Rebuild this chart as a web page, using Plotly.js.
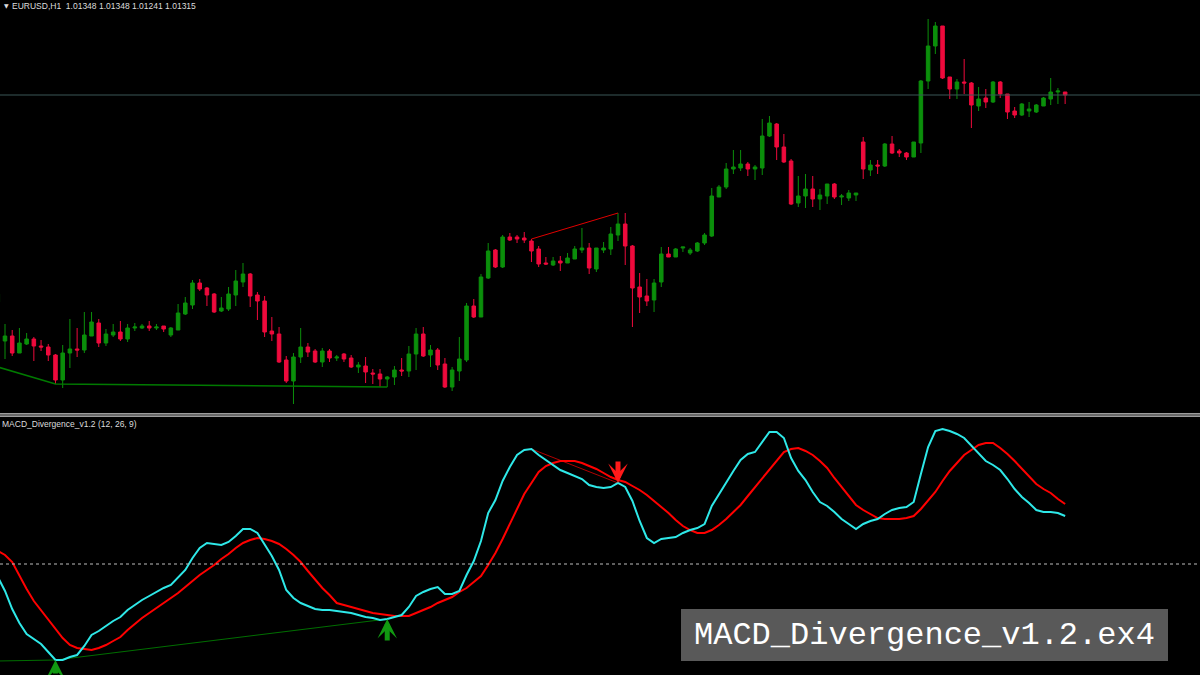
<!DOCTYPE html>
<html><head><meta charset="utf-8">
<script src="https://cdn.plot.ly/plotly-3.0.1.min.js"></script>
<style>html,body{margin:0;padding:0;background:#000;overflow:hidden}#chart{width:1200px;height:675px}</style>
</head><body><div id="chart"></div>
<script>
const symbolName = 'EURUSD,H1';
const headerValues = ['1.01348', '1.01348', '1.01241', '1.01315'];
const indicatorName = 'MACD_Divergence_v1.2 (12, 26, 9)';
const fileLabel = 'MACD_Divergence_v1.2.ex4';

const openP = [
1.01108,1.01069,1.01074,1.01057,1.01066,1.01071,1.01064,1.01063,1.01055,1.01030,
1.01057,1.01061,1.01060,1.01074,1.01087,1.01067,1.01075,1.01078,1.01071,1.01082,
1.01082,1.01084,1.01082,1.01084,1.01075,1.01080,1.01096,1.01105,1.01127,1.01122,
1.01116,1.01099,1.01101,1.01115,1.01128,1.01136,1.01115,1.01109,1.01079,1.01076,
1.01050,1.01029,1.01053,1.01063,1.01059,1.01048,1.01059,1.01052,1.01056,1.01052,
1.01043,1.01044,1.01037,1.01036,1.01031,1.01033,1.01040,1.01039,1.01056,1.01076,
1.01055,1.01060,1.01046,1.01023,1.01039,1.01050,1.01104,1.01093,1.01132,1.01160,
1.01143,1.01173,1.01173,1.01172,1.01169,1.01161,1.01147,1.01145,1.01149,1.01147,
1.01151,1.01160,1.01162,1.01141,1.01160,1.01161,1.01175,1.01186,1.01164,1.01123,
1.01114,1.01110,1.01128,1.01156,1.01153,1.01162,1.01157,1.01159,1.01167,1.01174,
1.01213,1.01223,1.01241,1.01242,1.01246,1.01241,1.01242,1.01274,1.01286,1.01263,
1.01249,1.01207,1.01214,1.01221,1.01211,1.01214,1.01226,1.01213,1.01212,1.01215,
1.01268,1.01240,1.01245,1.01244,1.01266,1.01259,1.01257,1.01253,1.01267,1.01329,
1.01364,1.01384,1.01333,1.01321,1.01328,1.01327,1.01304,1.01312,1.01308,1.01328,
1.01316,1.01299,1.01295,1.01299,1.01298,1.01304,1.01311,1.01318,1.01318];

const highP = [
1.01120,1.01086,1.01080,1.01082,1.01077,1.01073,1.01070,1.01066,1.01056,1.01065,
1.01091,1.01082,1.01098,1.01098,1.01091,1.01081,1.01086,1.01089,1.01086,1.01087,
1.01086,1.01089,1.01086,1.01084,1.01083,1.01106,1.01113,1.01130,1.01131,1.01123,
1.01117,1.01113,1.01123,1.01140,1.01147,1.01137,1.01118,1.01114,1.01093,1.01083,
1.01054,1.01057,1.01082,1.01067,1.01061,1.01062,1.01061,1.01055,1.01057,1.01055,
1.01048,1.01053,1.01041,1.01041,1.01034,1.01044,1.01052,1.01064,1.01082,1.01083,
1.01065,1.01062,1.01052,1.01043,1.01073,1.01107,1.01111,1.01136,1.01167,1.01161,
1.01175,1.01177,1.01175,1.01178,1.01171,1.01164,1.01153,1.01153,1.01154,1.01157,
1.01164,1.01182,1.01167,1.01162,1.01168,1.01183,1.01197,1.01197,1.01165,1.01137,
1.01131,1.01131,1.01163,1.01163,1.01162,1.01163,1.01162,1.01168,1.01177,1.01222,
1.01225,1.01247,1.01260,1.01260,1.01248,1.01245,1.01291,1.01294,1.01287,1.01276,
1.01251,1.01234,1.01236,1.01234,1.01221,1.01226,1.01227,1.01216,1.01220,1.01217,
1.01273,1.01250,1.01250,1.01267,1.01274,1.01261,1.01258,1.01268,1.01330,1.01391,
1.01388,1.01384,1.01333,1.01331,1.01351,1.01328,1.01323,1.01321,1.01329,1.01329,
1.01316,1.01303,1.01307,1.01308,1.01306,1.01313,1.01332,1.01322,1.01318];

const lowP = [
1.01104,1.01051,1.01054,1.01057,1.01065,1.01049,1.01059,1.01049,1.01026,1.01022,
1.01042,1.01053,1.01057,1.01074,1.01063,1.01064,1.01073,1.01069,1.01068,1.01079,
1.01081,1.01079,1.01080,1.01078,1.01073,1.01080,1.01095,1.01101,1.01119,1.01104,
1.01097,1.01098,1.01099,1.01104,1.01123,1.01103,1.01090,1.01073,1.01069,1.01047,
1.01027,1.01006,1.01047,1.01053,1.01047,1.01043,1.01048,1.01049,1.01048,1.01042,
1.01037,1.01027,1.01026,1.01023,1.01023,1.01025,1.01034,1.01033,1.01040,1.01053,
1.01043,1.01040,1.01022,1.01019,1.01029,1.01048,1.01092,1.01093,1.01131,1.01142,
1.01142,1.01169,1.01167,1.01167,1.01148,1.01143,1.01145,1.01144,1.01139,1.01147,
1.01151,1.01157,1.01136,1.01138,1.01157,1.01155,1.01169,1.01145,1.01083,1.01097,
1.01104,1.01098,1.01123,1.01153,1.01153,1.01158,1.01155,1.01158,1.01165,1.01173,
1.01213,1.01221,1.01236,1.01239,1.01234,1.01230,1.01235,1.01273,1.01250,1.01247,
1.01205,1.01203,1.01202,1.01203,1.01200,1.01206,1.01211,1.01205,1.01209,1.01209,
1.01231,1.01234,1.01236,1.01243,1.01256,1.01253,1.01250,1.01253,1.01257,1.01321,
1.01356,1.01331,1.01311,1.01311,1.01316,1.01282,1.01299,1.01302,1.01307,1.01312,
1.01291,1.01292,1.01294,1.01293,1.01297,1.01304,1.01305,1.01306,1.01306];

const closeP = [
1.01116,1.01074,1.01057,1.01067,1.01071,1.01064,1.01063,1.01055,1.01030,1.01057,
1.01061,1.01060,1.01075,1.01088,1.01067,1.01076,1.01078,1.01071,1.01082,1.01083,
1.01084,1.01082,1.01083,1.01081,1.01082,1.01097,1.01107,1.01127,1.01121,1.01115,
1.01098,1.01102,1.01116,1.01129,1.01136,1.01114,1.01109,1.01078,1.01076,1.01048,
1.01029,1.01053,1.01063,1.01058,1.01048,1.01059,1.01052,1.01053,1.01051,1.01043,
1.01045,1.01038,1.01036,1.01031,1.01033,1.01040,1.01039,1.01056,1.01076,1.01054,
1.01060,1.01045,1.01023,1.01040,1.01051,1.01104,1.01093,1.01133,1.01159,1.01143,
1.01173,1.01170,1.01171,1.01170,1.01159,1.01146,1.01146,1.01149,1.01147,1.01152,
1.01161,1.01162,1.01142,1.01162,1.01162,1.01176,1.01186,1.01164,1.01122,1.01113,
1.01109,1.01127,1.01156,1.01153,1.01161,1.01163,1.01160,1.01167,1.01175,1.01214,
1.01223,1.01241,1.01243,1.01246,1.01241,1.01243,1.01274,1.01287,1.01263,1.01248,
1.01206,1.01214,1.01221,1.01211,1.01215,1.01226,1.01213,1.01214,1.01217,1.01217,
1.01241,1.01245,1.01244,1.01266,1.01257,1.01257,1.01253,1.01268,1.01329,1.01364,
1.01384,1.01332,1.01321,1.01328,1.01327,1.01305,1.01311,1.01308,1.01328,1.01316,
1.01298,1.01295,1.01306,1.01301,1.01305,1.01312,1.01318,1.01319,1.01315];

const macdMain = [
-0.00013,-0.00027,-0.00045,-0.00059,-0.00070,-0.00075,-0.00080,-0.00088,-0.00096,-0.00096,
-0.00093,-0.00091,-0.00082,-0.00071,-0.00067,-0.00062,-0.00057,-0.00053,-0.00046,-0.00041,
-0.00036,-0.00032,-0.00028,-0.00024,-0.00021,-0.00013,-0.00006,0.00006,0.00016,0.00021,
0.00020,0.00019,0.00022,0.00028,0.00035,0.00035,0.00031,0.00020,0.00008,-0.00006,
-0.00026,-0.00034,-0.00039,-0.00042,-0.00045,-0.00046,-0.00046,-0.00047,-0.00048,-0.00049,
-0.00051,-0.00053,-0.00054,-0.00056,-0.00055,-0.00053,-0.00051,-0.00043,-0.00032,-0.00028,
-0.00025,-0.00023,-0.00030,-0.00030,-0.00027,-0.00011,0.00003,0.00023,0.00051,0.00064,
0.00083,0.00097,0.00109,0.00114,0.00115,0.00109,0.00104,0.00099,0.00094,0.00091,
0.00088,0.00085,0.00079,0.00077,0.00076,0.00077,0.00081,0.00077,0.00063,0.00043,
0.00026,0.00021,0.00025,0.00026,0.00027,0.00031,0.00034,0.00036,0.00040,0.00058,
0.00070,0.00082,0.00093,0.00104,0.00110,0.00112,0.00122,0.00132,0.00132,0.00126,
0.00106,0.00093,0.00084,0.00072,0.00062,0.00058,0.00052,0.00045,0.00040,0.00035,
0.00040,0.00043,0.00045,0.00050,0.00054,0.00056,0.00057,0.00062,0.00090,0.00117,
0.00133,0.00135,0.00133,0.00130,0.00126,0.00118,0.00111,0.00103,0.00099,0.00094,
0.00085,0.00075,0.00067,0.00061,0.00054,0.00052,0.00052,0.00051,0.00048];

const macdSignal = [
0.00013,0.00009,0.00002,-0.00012,-0.00025,-0.00037,-0.00046,-0.00056,-0.00065,-0.00074,
-0.00081,-0.00084,-0.00085,-0.00086,-0.00084,-0.00081,-0.00077,-0.00073,-0.00066,-0.00060,
-0.00054,-0.00049,-0.00044,-0.00039,-0.00034,-0.00029,-0.00023,-0.00017,-0.00011,-0.00006,
-0.00001,0.00005,0.00010,0.00016,0.00021,0.00024,0.00026,0.00025,0.00023,0.00020,
0.00015,0.00009,0.00002,-0.00007,-0.00016,-0.00024,-0.00031,-0.00039,-0.00041,-0.00043,
-0.00045,-0.00047,-0.00049,-0.00050,-0.00051,-0.00052,-0.00052,-0.00052,-0.00049,-0.00046,
-0.00043,-0.00039,-0.00036,-0.00033,-0.00028,-0.00024,-0.00018,-0.00012,-0.00001,0.00011,
0.00025,0.00040,0.00056,0.00070,0.00081,0.00092,0.00098,0.00101,0.00103,0.00103,
0.00103,0.00101,0.00098,0.00095,0.00091,0.00087,0.00084,0.00082,0.00078,0.00074,
0.00069,0.00063,0.00057,0.00051,0.00044,0.00038,0.00034,0.00031,0.00031,0.00034,
0.00039,0.00045,0.00052,0.00059,0.00068,0.00077,0.00086,0.00095,0.00104,0.00112,
0.00115,0.00116,0.00113,0.00109,0.00103,0.00096,0.00086,0.00077,0.00067,0.00059,
0.00054,0.00050,0.00046,0.00045,0.00045,0.00045,0.00046,0.00048,0.00055,0.00063,
0.00072,0.00083,0.00093,0.00101,0.00109,0.00114,0.00119,0.00121,0.00121,0.00116,
0.00110,0.00103,0.00095,0.00087,0.00080,0.00075,0.00071,0.00065,0.00060];

// divergence lines and signal arrows (bar indices)
const priceBullIdx = [0, 8, 54];
const priceBullStart = 1.01043;
const priceBearIdx = [74, 86];
const macdBullIdx = [0, 8, 54];
const macdBullStart = -0.00097;
const macdBearIdx = [74, 86];
const bullArrowIdx = [8, 54];
const bearArrowIdx = [86];

const GREEN = '#0b8f0b', RED = '#ee0a3c';
const barIdx = openP.map((_, i) => i);
const last = closeP.length - 1;

const traces = [
  {type: 'candlestick', x: barIdx, open: openP, high: highP, low: lowP, close: closeP,
   xaxis: 'x', yaxis: 'y', hoverinfo: 'skip', whiskerwidth: 0,
   increasing: {line: {color: GREEN, width: 1}, fillcolor: GREEN},
   decreasing: {line: {color: RED, width: 1}, fillcolor: RED}},
  {type: 'scatter', mode: 'lines', xaxis: 'x', yaxis: 'y', hoverinfo: 'skip',
   x: priceBullIdx, y: [priceBullStart, lowP[priceBullIdx[1]], lowP[priceBullIdx[2]]],
   line: {color: '#007a00', width: 1.5}},
  {type: 'scatter', mode: 'lines', xaxis: 'x', yaxis: 'y', hoverinfo: 'skip',
   x: priceBearIdx, y: priceBearIdx.map(i => highP[i]),
   line: {color: '#e00000', width: 1}},
  {type: 'scatter', mode: 'lines', xaxis: 'x', yaxis: 'y2', hoverinfo: 'skip',
   x: macdBullIdx, y: [macdBullStart, macdMain[macdBullIdx[1]], macdMain[macdBullIdx[2]]],
   line: {color: '#006e00', width: 1}},
  {type: 'scatter', mode: 'lines', xaxis: 'x', yaxis: 'y2', hoverinfo: 'skip',
   x: macdBearIdx, y: macdBearIdx.map(i => macdMain[i]),
   line: {color: '#b00000', width: 1}},
  {type: 'scatter', mode: 'lines', xaxis: 'x', yaxis: 'y2', hoverinfo: 'skip',
   x: barIdx, y: macdSignal, line: {color: '#ff0000', width: 2}},
  {type: 'scatter', mode: 'lines', xaxis: 'x', yaxis: 'y2', hoverinfo: 'skip',
   x: barIdx, y: macdMain, line: {color: '#2ee8e8', width: 2}}
];

const annotations = [
  {xref: 'paper', yref: 'paper', x: 2/1200, y: 1 - 5/675, xanchor: 'left', yanchor: 'middle',
   text: '▼', showarrow: false, font: {family: 'DejaVu Sans', size: 6, color: '#dcdcdc'}},
  {xref: 'paper', yref: 'paper', x: 10/1200, y: 1 - 6/675, xanchor: 'left', yanchor: 'middle',
   text: symbolName + '  ' + headerValues.join(' '), showarrow: false,
   font: {family: 'Liberation Sans', size: 8.5, color: '#dcdcdc'}},
  {xref: 'paper', yref: 'paper', x: 0, y: 1 - 424/675, xanchor: 'left', yanchor: 'middle',
   text: indicatorName, showarrow: false,
   font: {family: 'Liberation Sans', size: 8.5, color: '#dcdcdc'}},
  {xref: 'paper', yref: 'paper', x: 924.5/1200, y: 1 - 635/675, xanchor: 'center', yanchor: 'middle',
   text: fileLabel, showarrow: false,
   font: {family: 'Liberation Mono', size: 32, color: '#ffffff'}}
];
bullArrowIdx.forEach(i => annotations.push({
  xref: 'x', yref: 'y2', x: i, y: macdMain[i], text: '', showarrow: true,
  ax: 0, ay: 23, arrowhead: 3, arrowsize: 0.65, arrowwidth: 5, arrowcolor: '#119911', standoff: 0
}));
bearArrowIdx.forEach(i => annotations.push({
  xref: 'x', yref: 'y2', x: i, y: macdMain[i], text: '', showarrow: true,
  ax: 0, ay: -23, arrowhead: 3, arrowsize: 0.65, arrowwidth: 5, arrowcolor: '#ff1a1a', standoff: 0
}));

const shapes = [
  {type: 'line', xref: 'paper', x0: 0, x1: 1, yref: 'y', y0: closeP[last], y1: closeP[last],
   line: {color: '#3b5757', width: 1}},
  {type: 'line', xref: 'paper', x0: 0, x1: 1, yref: 'y2', y0: 0, y1: 0,
   line: {color: '#bdbdbd', width: 1, dash: '3px,3px'}},
  {type: 'line', xref: 'paper', x0: 0, x1: 1, yref: 'paper', y0: 1 - 413.8/675, y1: 1 - 413.8/675,
   line: {color: '#d0d0d0', width: 1.3}},
  {type: 'line', xref: 'paper', x0: 0, x1: 1, yref: 'paper', y0: 1 - 416.2/675, y1: 1 - 416.2/675,
   line: {color: '#d0d0d0', width: 1.3}},
  {type: 'rect', xref: 'paper', yref: 'paper', x0: 681/1200, x1: 1168/1200,
   y0: 1 - 661/675, y1: 1 - 609/675, fillcolor: '#595959', line: {width: 0}, layer: 'above'}
];

const layout = {
  width: 1200, height: 675,
  margin: {l: 0, r: 0, t: 0, b: 0},
  paper_bgcolor: '#000000', plot_bgcolor: '#000000',
  showlegend: false, dragmode: false, hovermode: false,
  xaxis: {range: [0.307, 166.7], visible: false, fixedrange: true, rangeslider: {visible: false}},
  yaxis: {domain: [1 - 411/675, 1], range: [1.00999, 1.01410], visible: false, fixedrange: true},
  yaxis2: {domain: [0, 1 - 417/675], range: [-0.00111, 0.00147], visible: false, fixedrange: true, anchor: 'x'},
  annotations: annotations,
  shapes: shapes
};

Plotly.newPlot('chart', traces, layout, {displayModeBar: false, staticPlot: true});
</script>
</body></html>
